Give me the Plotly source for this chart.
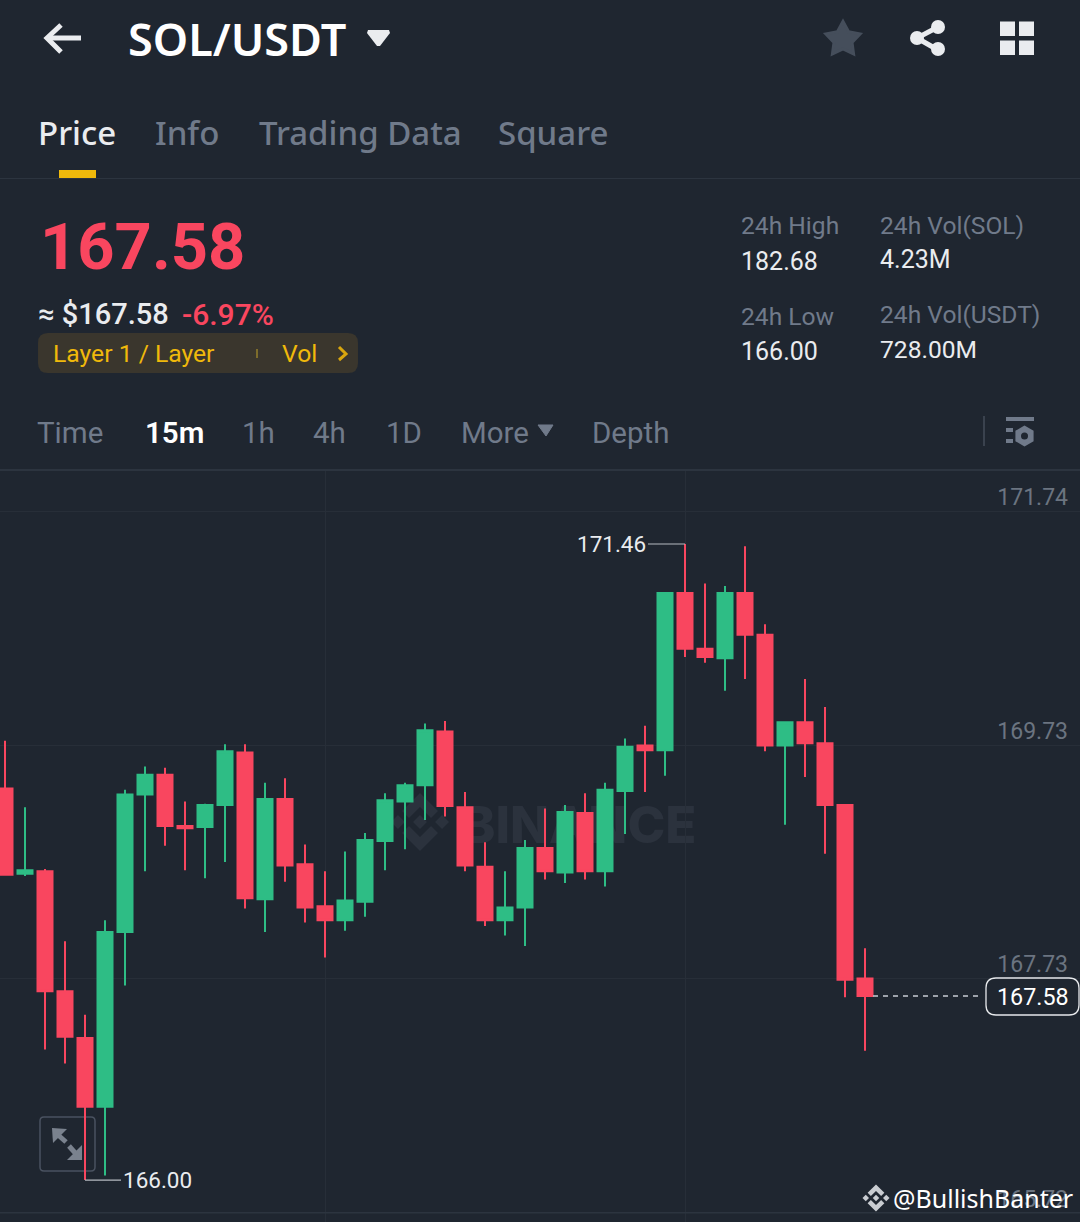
import math
import plotly.graph_objects as go

# ---------- data (prices) ----------
opens = [169.36,168.63,168.65,167.62,167.22,166.63,168.13,169.31,169.48,169.04,169.03,169.22,169.67,168.41,169.27,168.71,168.35,168.23,
         168.39,168.91,169.25,169.39,169.85,169.20,168.69,168.23,168.34,168.85,168.64,169.15,168.65,169.34,169.73,169.69,171.04,170.56,
         170.48,171.04,170.68,169.73,169.93,169.75,169.22,167.73]
highs = [169.77,169.20,168.67,168.05,167.42,168.23,169.35,169.55,169.54,169.25,169.23,169.74,169.74,169.41,169.45,168.88,168.65,168.82,
         168.98,169.32,169.41,169.92,169.94,169.33,168.90,168.65,168.92,169.19,169.22,169.32,169.41,169.79,169.90,171.04,171.46,171.12,
         171.10,171.44,170.77,169.93,170.30,170.06,169.22,167.99]
lows = [168.62,168.61,167.12,167.00,166.00,166.04,167.67,168.65,168.87,168.66,168.59,168.73,168.33,168.13,168.56,168.21,167.91,168.14,
        168.26,168.66,168.84,169.09,169.12,168.65,168.18,168.10,168.01,168.58,168.55,168.58,168.52,168.97,169.33,169.47,170.49,170.44,
        170.20,170.30,169.68,169.05,169.46,168.80,167.57,167.11]
closes = [168.62,168.66,167.62,167.23,166.63,168.13,169.31,169.48,169.04,169.02,169.22,169.68,168.42,169.27,168.70,168.34,168.23,168.40,
          168.92,169.26,169.39,169.86,169.21,168.70,168.23,168.34,168.85,168.65,169.16,168.65,169.35,169.72,169.69,171.04,170.56,170.49,
          171.04,170.68,169.73,169.93,169.75,169.22,167.72,167.58]
candle_index = list(range(len(opens)))
price_ticks = [171.74, 169.73, 167.73, 165.72]
price_tick_labels = ["171.74", "169.73", "167.73", "165.72"]
time_grid_index = [16, 34]
last_price = 167.58
tabs = ["Price", "Info", "Trading Data", "Square"]
intervals = ["Time", "15m", "1h", "4h", "1D", "More", "Depth"]

# ---------- palette ----------
BG = "#1f2630"
GREEN = "#2ebd85"
RED = "#f9465f"
LIGHT = "#eaecef"
GRAY = "#707a8a"
TICK = "#6b7480"
YELLOW = "#f0b90b"
GRID = "#272e38"
LINE = "#2c343f"
W, H = 1080, 1222
FONT = "Noto Sans"


def px(x, y):
    return f"{x / W:.5f} {1 - y / H:.5f}"


def path(points, close=True):
    s = "M " + " L ".join(px(x, y) for x, y in points)
    return s + (" Z" if close else "")


shapes = []
notes = []


def add_path(d, fill=None, line=None, width=0, layer="above"):
    shapes.append(dict(type="path", path=d, xref="paper", yref="paper", layer=layer,
                       fillcolor=fill or "rgba(0,0,0,0)",
                       line=dict(color=line or "rgba(0,0,0,0)", width=width)))


def add_rect(x0, y0, x1, y1, fill, layer="above"):
    shapes.append(dict(type="rect", xref="paper", yref="paper", layer=layer, x0=x0 / W, x1=x1 / W,
                       y0=1 - y1 / H, y1=1 - y0 / H, fillcolor=fill, line=dict(width=0)))


def add_circle(cx, cy, r, fill):
    shapes.append(dict(type="circle", xref="paper", yref="paper", x0=(cx - r) / W, x1=(cx + r) / W,
                       y0=1 - (cy + r) / H, y1=1 - (cy - r) / H, fillcolor=fill, line=dict(width=0)))


def round_rect(x0, y0, x1, y1, r):
    return (f"M {px(x0 + r, y0)} L {px(x1 - r, y0)} Q {px(x1, y0)} {px(x1, y0 + r)} "
            f"L {px(x1, y1 - r)} Q {px(x1, y1)} {px(x1 - r, y1)} L {px(x0 + r, y1)} "
            f"Q {px(x0, y1)} {px(x0, y1 - r)} L {px(x0, y0 + r)} Q {px(x0, y0)} {px(x0 + r, y0)} Z")


def text(x, y, s, size, color, anchor="left", weight=400, family=FONT):
    notes.append(dict(xref="paper", yref="paper", x=x / W, y=1 - y / H, text=s, showarrow=False,
                      xanchor=anchor, yanchor="middle", borderpad=0,
                      font=dict(family=family, size=size, color=color, weight=weight)))


def binance_logo(cx, cy, s, color, layer="above"):
    def dia(x, y, r):
        add_path(path([(cx + x * s, cy + (y - r) * s), (cx + (x + r) * s, cy + y * s),
                       (cx + x * s, cy + (y + r) * s), (cx + (x - r) * s, cy + y * s)]), fill=color, layer=layer)
    dia(0, 0, 0.24)
    dia(-0.76, 0, 0.24)
    dia(0.76, 0, 0.24)
    for sign in (-1, 1):
        add_path(path([(cx, cy + sign * s), (cx + 0.62 * s, cy + sign * 0.38 * s), (cx + 0.38 * s, cy + sign * 0.14 * s),
                       (cx, cy + sign * 0.52 * s), (cx - 0.38 * s, cy + sign * 0.14 * s),
                       (cx - 0.62 * s, cy + sign * 0.38 * s)]), fill=color, layer=layer)


# ---------- header ----------
add_path(path([(47, 38), (81, 38)], close=False), line=LIGHT, width=5)
add_path(path([(61, 25), (47, 38), (61, 52)], close=False), line=LIGHT, width=5)
text(127, 38.5, "SOL/USDT", 45, "#ffffff", weight=600)
add_path(path([(368, 30), (389, 30), (390, 33), (380, 46), (377, 46), (367, 33)]), fill=LIGHT)

star = []
for i in range(10):
    a = -math.pi / 2 + i * math.pi / 5
    r = 18 if i % 2 == 0 else 9.5
    star.append((843 + r * math.cos(a), 39.5 + r * math.sin(a)))
add_path(path(star), fill="#454e5b", line="#454e5b", width=3)

add_path(path([(938, 27), (917, 38), (938, 50)], close=False), line=LIGHT, width=5)
add_circle(917, 38, 7, LIGHT)
add_circle(938, 27, 7, LIGHT)
add_circle(938, 49, 7, LIGHT)
for gx in (1000, 1019):
    for gy in (21.5, 40.5):
        add_rect(gx, gy, gx + 15, gy + 14.5, LIGHT)

# tabs
for label, x, color in zip(tabs, [37, 154, 258, 497], [LIGHT, GRAY, GRAY, GRAY]):
    text(x, 133, label, 33, color, weight=500)
add_rect(59, 170, 96, 178, YELLOW)
add_rect(0, 178, W, 179, LINE)

# price block
text(39, 247, "167.58", 65, RED, weight=700, family="Roboto")
text(37, 314, "≈ $167.58", 29, LIGHT, weight=500, family="Roboto")
text(181, 314, "-6.97%", 30, RED, weight=500, family="Roboto")
add_path(round_rect(38, 333, 358, 373, 10), fill="#3a362d")
text(52, 353.5, "Layer 1 / Layer", 24.7, YELLOW, family="Roboto")
add_rect(256, 349, 258, 358, "#7d6c2b")
text(281, 353.5, "Vol", 24.7, YELLOW, family="Roboto")
add_path(path([(339, 347), (346, 354), (339, 360)], close=False), line="#d9a60e", width=3)

# stats
text(740, 226, "24h High", 24.6, GRAY, family="Roboto")
text(740, 261, "182.68", 25, LIGHT, family="Roboto")
text(879, 225, "24h Vol(SOL)", 24.6, GRAY, family="Roboto")
text(879, 260, "4.23M", 25, LIGHT, family="Roboto")
text(740, 316, "24h Low", 24.6, GRAY, family="Roboto")
text(740, 351, "166.00", 25, LIGHT, family="Roboto")
text(879, 314.5, "24h Vol(USDT)", 24.6, GRAY, family="Roboto")
text(879, 349.5, "728.00M", 24.6, LIGHT, family="Roboto")

# interval row
for label, x in zip(intervals, [36, 144, 241, 312, 385, 460, 591]):
    active = label == "15m"
    text(x, 433, label, 29.5, "#ffffff" if active else GRAY, weight=600 if active else 400, family="Roboto")
add_path(path([(538, 425), (553, 425), (546, 436)]), fill=GRAY, line=GRAY, width=1)
add_rect(983, 416, 985, 446, "#3a424e")
add_rect(1006, 417, 1034, 421, GRAY)
add_rect(1006, 428, 1013, 432, GRAY)
add_rect(1006, 439, 1013, 443, GRAY)
hexagon = [(1024.5 + 10.5 * math.cos(math.pi / 6 + i * math.pi / 3), 436 + 10.5 * math.sin(math.pi / 6 + i * math.pi / 3)) for i in range(6)]
add_path(path(hexagon), fill=GRAY)
add_circle(1024.5, 436, 3.5, BG)

add_rect(0, 469, W, 471, LINE)
add_rect(0, 1212, W, 1213.5, LINE)

# watermark (below the candles)
binance_logo(420, 822, 29, "#2b323d", layer="below")
shapes.append(dict(type="rect", xref="paper", yref="paper", layer="below", x0=463 / W, x1=695 / W,
                   y0=1 - 846 / H, y1=1 - 798 / H, fillcolor="rgba(0,0,0,0)", line=dict(width=0),
                   label=dict(text="BINANCE", textposition="middle center",
                              font=dict(family="Inter", size=51, color="#2b323d", weight=800))))

# expand button
add_path(round_rect(40, 1117, 95, 1171, 4), line="#4a5260", width=1.5, layer="below")
add_path(path([(52, 1128), (67, 1129), (53, 1143)]), fill="#7a828e", layer="below")
add_path(path([(82, 1145), (82, 1160), (67, 1160)]), fill="#7a828e", layer="below")
add_path(path([(57, 1134), (66, 1142)], close=False), line="#7a828e", width=5, layer="below")
add_path(path([(69, 1146), (77, 1155)], close=False), line="#7a828e", width=5, layer="below")

# last-price marker
shapes.append(dict(type="line", xref="paper", yref="y", x0=873 / W, x1=980 / W, y0=last_price, y1=last_price,
                   line=dict(color="#c8ccd2", width=1.3, dash="5px,5px")))
add_path(round_rect(986, 978, 1079, 1015, 10), fill=BG, line="#e6e8eb", width=1.3)
text(1033, 997, f"{last_price:.2f}", 23.3, "#ffffff", anchor="center", family="Roboto")

# attribution
binance_logo(876, 1198, 13.5, "#c9ccd1")
text(892, 1198, "@BullishBanter", 25, "#ffffff")

# high / low callouts, anchored on the data
hi = max(highs)
lo = min(lows)
notes.append(dict(x=highs.index(hi), y=hi, xref="x", yref="y", text=f"{hi:.2f}", showarrow=True, arrowhead=0,
                  arrowwidth=1.2, arrowcolor="#b5b9c0", ax=-37, ay=0, axref="pixel", ayref="pixel", standoff=0,
                  xanchor="right", yanchor="middle", font=dict(family="Roboto", size=22.5, color=LIGHT)))
notes.append(dict(x=lows.index(lo), y=lo, xref="x", yref="y", text=f"{lo:.2f}", showarrow=True, arrowhead=0,
                  arrowwidth=1.2, arrowcolor="#b5b9c0", ax=36, ay=0, axref="pixel", ayref="pixel", standoff=0,
                  xanchor="left", yanchor="middle", font=dict(family="Roboto", size=22.5, color=LIGHT)))

# ---------- chart ----------
fig = go.Figure(go.Candlestick(
    x=candle_index, open=opens, high=highs, low=lows, close=closes,
    whiskerwidth=0,
    increasing=dict(line=dict(color=GREEN, width=2), fillcolor=GREEN),
    decreasing=dict(line=dict(color=RED, width=2), fillcolor=RED),
    hoverinfo="skip",
))
fig.update_layout(
    width=W, height=H, autosize=False,
    margin=dict(l=0, r=0, t=0, b=0),
    paper_bgcolor=BG, plot_bgcolor=BG,
    showlegend=False,
    boxgap=0.25, boxgroupgap=0,
    shapes=shapes, annotations=notes,
    font=dict(family=FONT),
    xaxis=dict(domain=[0, 1], range=[-0.25, 53.75], rangeslider=dict(visible=False), tickmode="array",
               tickvals=time_grid_index, showticklabels=False, showgrid=True, gridcolor=GRID, gridwidth=1,
               zeroline=False, showline=False, ticks=""),
    yaxis=dict(domain=[0, 1 - 470 / H], range=[165.64, 172.095], side="right", tickmode="array",
               tickvals=price_ticks, ticktext=price_tick_labels, ticklabelposition="inside top",
               tickfont=dict(family="Roboto", size=23, color=TICK), showgrid=True, gridcolor=GRID, gridwidth=1,
               zeroline=False, showline=False, ticks="", ticklabelstandoff=9, ticklabelshift=2),
)
fig.write_html("out.html", config=dict(displayModeBar=False),
               post_script="document.body.style.margin='0';document.body.style.overflow='hidden';")
